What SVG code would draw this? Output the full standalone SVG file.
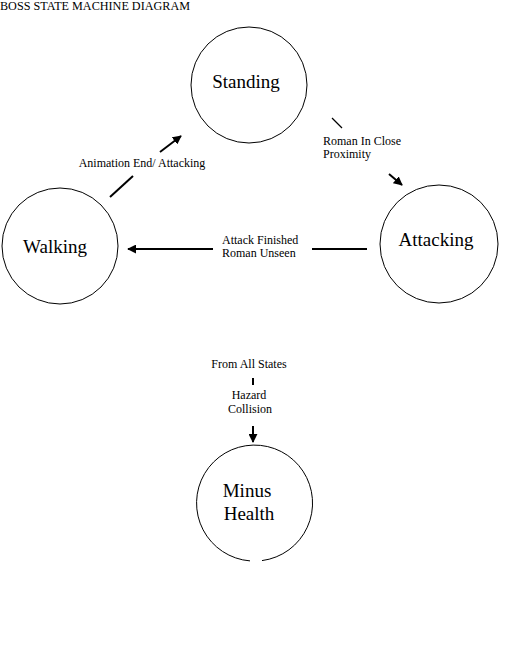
<svg xmlns="http://www.w3.org/2000/svg" width="519" height="648" viewBox="0 0 519 648">
<style>
.node{fill:none;stroke:#000;stroke-width:1}
.lbl{font-family:"Liberation Serif","DejaVu Serif",serif;font-size:19px;fill:#000}
.el{font-family:"Liberation Serif","DejaVu Serif",serif;font-size:12px;fill:#000}
.edge{stroke:#000;stroke-width:2;fill:none}
</style>
<defs>
<marker id="ah" viewBox="0 0 10 10" refX="9" refY="5" markerWidth="4.5" markerHeight="4.5" orient="auto" markerUnits="strokeWidth">
<path d="M0,0 L10,5 L0,10 z" fill="#000"/>
</marker>
</defs>
<rect width="519" height="648" fill="#fff"/>
<text x="0" y="10" class="el" textLength="190" lengthAdjust="spacingAndGlyphs">BOSS STATE MACHINE DIAGRAM</text>
<g id="standing">
<circle class="node" cx="249" cy="85" r="58"/>
<text class="lbl" x="246" y="88" text-anchor="middle">Standing</text>
</g>
<g id="walking">
<circle class="node" cx="60" cy="246" r="58"/>
<text class="lbl" x="55" y="253" text-anchor="middle">Walking</text>
</g>
<g id="attacking">
<circle class="node" cx="439" cy="244" r="59"/>
<text class="lbl" x="436" y="246" text-anchor="middle">Attacking</text>
</g>
<g id="minus-health">
<path class="node" d="M262,560.6 A58,58 0 1 0 250,560.9"/>
<text class="lbl" x="247" y="497" text-anchor="middle">Minus</text>
<text class="lbl" x="249" y="520" text-anchor="middle">Health</text>
</g>
<g id="connectors">
<line class="edge" x1="110" y1="197" x2="133" y2="176"/>
<line class="edge" x1="160" y1="152" x2="181" y2="136" marker-end="url(#ah)"/>
<text class="el" x="142" y="167" text-anchor="middle">Animation End/ Attacking</text>
<line x1="332" y1="118" x2="342" y2="128" stroke="#000" stroke-width="1.2"/>
<line class="edge" x1="389" y1="174" x2="402" y2="185" marker-end="url(#ah)"/>
<text class="el" x="323" y="145">Roman In Close</text>
<text class="el" x="323" y="158">Proximity</text>
<line class="edge" x1="367" y1="249" x2="312" y2="249"/>
<line class="edge" x1="213" y1="249" x2="128" y2="249" marker-end="url(#ah)"/>
<text class="el" x="222" y="244">Attack Finished</text>
<text class="el" x="222" y="257">Roman Unseen</text>
<text class="el" x="249" y="368" text-anchor="middle">From All States</text>
<line class="edge" x1="253" y1="378" x2="253" y2="385"/>
<text class="el" x="249" y="399" text-anchor="middle">Hazard</text>
<text class="el" x="250" y="413" text-anchor="middle">Collision</text>
<line class="edge" x1="253" y1="426" x2="253" y2="442" marker-end="url(#ah)"/>
</g>
</svg>
